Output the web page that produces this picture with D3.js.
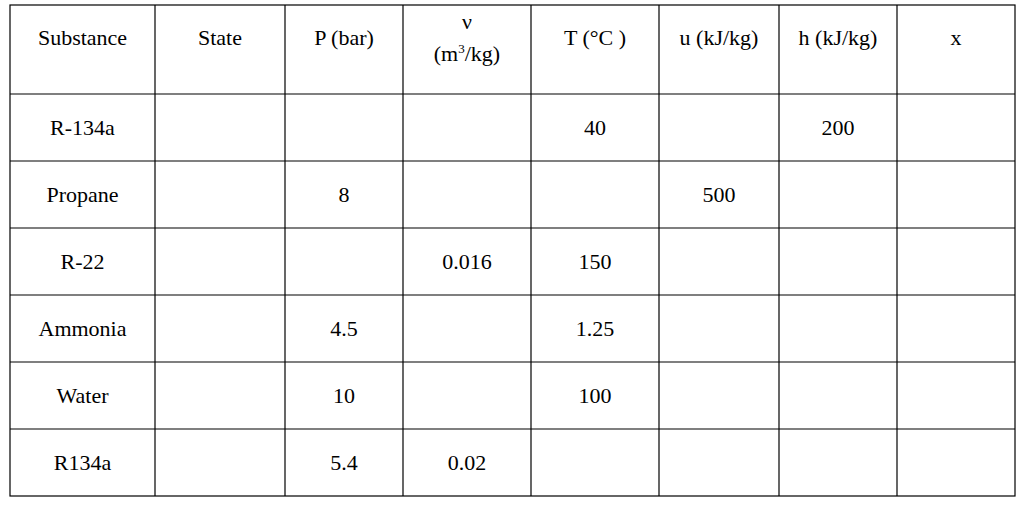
<!DOCTYPE html>
<html><head><meta charset="utf-8">
<script src="https://cdn.jsdelivr.net/npm/d3@7"></script>
<style>body{margin:0;background:#fff}</style>
</head><body><svg id="t" width="1024" height="507"></svg>
<script>
// Table content
const headers = ["Substance", "State", "P (bar)", "ν|(m³/kg)", "T (°C )", "u (kJ/kg)", "h (kJ/kg)", "x"];
const substances = ["R-134a", "Propane", "R-22", "Ammonia", "Water", "R134a"];
const states = ["", "", "", "", "", ""];
const pressures = ["", "8", "", "4.5", "10", "5.4"];
const volumes = ["", "", "0.016", "", "", "0.02"];
const temps = ["40", "", "150", "1.25", "100", ""];
const energies = ["", "500", "", "", "", ""];
const enthalpies = ["200", "", "", "", "", ""];
const qualities = ["", "", "", "", "", ""];

// layout
const colEdges = [10, 155, 285, 403, 531, 659, 779, 897, 1015];
const headTop = 5, headBottom = 94, rowH = 67;

const rows = substances.map((s, i) => [s, states[i], pressures[i], volumes[i], temps[i], energies[i], enthalpies[i], qualities[i]]);
const svg = d3.select("#t");
const bottom = headBottom + rowH * rows.length;
const cx = i => (colEdges[i] + colEdges[i + 1]) / 2;

// grid
svg.append("rect").attr("x", colEdges[0]).attr("y", headTop)
  .attr("width", colEdges[8] - colEdges[0]).attr("height", bottom - headTop)
  .attr("fill", "none").attr("stroke", "#000").attr("stroke-width", 1.2);
svg.selectAll(".v").data(colEdges.slice(1, -1)).join("line")
  .attr("x1", d => d).attr("x2", d => d).attr("y1", headTop).attr("y2", bottom)
  .attr("stroke", "#000").attr("stroke-width", 1.2);
svg.selectAll(".h").data(d3.range(rows.length)).join("line")
  .attr("x1", colEdges[0]).attr("x2", colEdges[8])
  .attr("y1", i => headBottom + i * rowH).attr("y2", i => headBottom + i * rowH)
  .attr("stroke", "#000").attr("stroke-width", 1.2);

const font = "'Liberation Serif', 'Times New Roman', serif";
// header
headers.forEach((h, i) => {
  const parts = h.split("|");
  if (parts.length === 1) {
    svg.append("text").attr("x", cx(i)).attr("y", 45).attr("text-anchor", "middle")
      .attr("font-family", font).attr("font-size", 22).text(h);
  } else {
    svg.append("text").attr("x", cx(i)).attr("y", 29).attr("text-anchor", "middle")
      .attr("font-family", font).attr("font-size", 22).text(parts[0]);
    const t = svg.append("text").attr("x", cx(i)).attr("y", 61).attr("text-anchor", "middle")
      .attr("font-family", font).attr("font-size", 22);
    t.append("tspan").text("(m");
    t.append("tspan").attr("font-size", 13).attr("dy", -8).text("3");
    t.append("tspan").attr("dy", 8).text("/kg)");
  }
});
// body
rows.forEach((r, ri) => {
  svg.selectAll(null).data(r).join("text")
    .attr("x", (d, i) => cx(i)).attr("y", headBottom + ri * rowH + 41)
    .attr("text-anchor", "middle").attr("font-family", font).attr("font-size", 22)
    .text(d => d);
});
</script></body></html>
